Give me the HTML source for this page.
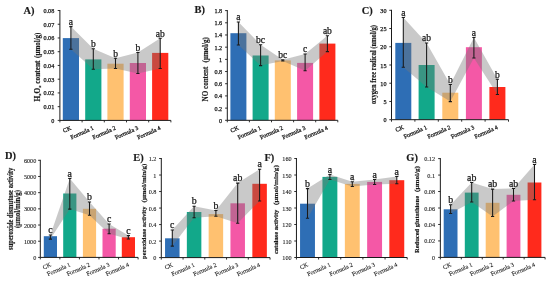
<!DOCTYPE html>
<html><head><meta charset="utf-8"><style>
html,body{margin:0;padding:0;background:#fff;width:550px;height:281px;overflow:hidden}
svg{display:block;will-change:transform}
text{font-family:"Liberation Serif",serif;fill:#1a1a1a;stroke:#1a1a1a;stroke-width:0.25px}
.yl{stroke-width:0.18px}
.lt{stroke-width:0.1px}
</style></head><body>
<svg xmlns="http://www.w3.org/2000/svg" width="550" height="281" viewBox="0 0 550 281">
<rect width="550" height="281" fill="#fff"/>
<rect x="62.8" y="38.1" width="16.2" height="82.3" fill="rgb(46,110,181)"/>
<rect x="85.2" y="59.4" width="16.2" height="61" fill="rgb(18,168,138)"/>
<rect x="107.4" y="63.7" width="16.2" height="56.7" fill="rgb(255,193,112)"/>
<rect x="129.8" y="63" width="16.2" height="57.4" fill="rgb(244,88,166)"/>
<rect x="152.1" y="52.9" width="16.2" height="67.5" fill="rgb(255,42,28)"/>
<polygon points="70.9,26.6 93.3,48.8 115.5,58.2 137.9,52.4 160.2,38.3 160.2,68.5 137.9,73.4 115.5,68.4 93.3,69.2 70.9,49.2" fill="rgb(120,120,120)" fill-opacity="0.4"/>
<path d="M70.9 26.6V49.2M69.3 26.6H72.5M69.3 49.2H72.5" stroke="#1a1a1a" stroke-width="1.05" fill="none"/>
<text x="70.9" y="24.9" font-size="9.5" text-anchor="middle">a</text>
<path d="M93.3 48.8V69.2M91.7 48.8H94.9M91.7 69.2H94.9" stroke="#1a1a1a" stroke-width="1.05" fill="none"/>
<text x="93.3" y="47.1" font-size="9.5" text-anchor="middle">b</text>
<path d="M115.5 58.2V68.4M113.9 58.2H117.1M113.9 68.4H117.1" stroke="#1a1a1a" stroke-width="1.05" fill="none"/>
<text x="115.5" y="56.5" font-size="9.5" text-anchor="middle">b</text>
<path d="M137.9 52.4V73.4M136.3 52.4H139.5M136.3 73.4H139.5" stroke="#1a1a1a" stroke-width="1.05" fill="none"/>
<text x="137.9" y="50.7" font-size="9.5" text-anchor="middle">b</text>
<path d="M160.2 38.3V68.5M158.6 38.3H161.8M158.6 68.5H161.8" stroke="#1a1a1a" stroke-width="1.05" fill="none"/>
<text x="160.2" y="36.6" font-size="9.5" text-anchor="middle">ab</text>
<path d="M59.9 10V120.4H170.9" stroke="#1a1a1a" stroke-width="1" fill="none"/>
<path d="M57.7 120.4H59.9" stroke="#1a1a1a" stroke-width="0.9"/>
<text x="54.3" y="120.4" font-size="6.2" text-anchor="end" dominant-baseline="central">0</text>
<path d="M57.7 106.66H59.9" stroke="#1a1a1a" stroke-width="0.9"/>
<text x="54.3" y="106.66" font-size="6.2" text-anchor="end" dominant-baseline="central">0.01</text>
<path d="M57.7 92.93H59.9" stroke="#1a1a1a" stroke-width="0.9"/>
<text x="54.3" y="92.93" font-size="6.2" text-anchor="end" dominant-baseline="central">0.02</text>
<path d="M57.7 79.19H59.9" stroke="#1a1a1a" stroke-width="0.9"/>
<text x="54.3" y="79.19" font-size="6.2" text-anchor="end" dominant-baseline="central">0.03</text>
<path d="M57.7 65.45H59.9" stroke="#1a1a1a" stroke-width="0.9"/>
<text x="54.3" y="65.45" font-size="6.2" text-anchor="end" dominant-baseline="central">0.04</text>
<path d="M57.7 51.71H59.9" stroke="#1a1a1a" stroke-width="0.9"/>
<text x="54.3" y="51.71" font-size="6.2" text-anchor="end" dominant-baseline="central">0.05</text>
<path d="M57.7 37.97H59.9" stroke="#1a1a1a" stroke-width="0.9"/>
<text x="54.3" y="37.97" font-size="6.2" text-anchor="end" dominant-baseline="central">0.06</text>
<path d="M57.7 24.24H59.9" stroke="#1a1a1a" stroke-width="0.9"/>
<text x="54.3" y="24.24" font-size="6.2" text-anchor="end" dominant-baseline="central">0.07</text>
<path d="M57.7 10.5H59.9" stroke="#1a1a1a" stroke-width="0.9"/>
<text x="54.3" y="10.5" font-size="6.2" text-anchor="end" dominant-baseline="central">0.08</text>
<path d="M59.9 120.4V122.4" stroke="#1a1a1a" stroke-width="0.9"/>
<path d="M82.1 120.4V122.4" stroke="#1a1a1a" stroke-width="0.9"/>
<path d="M104.3 120.4V122.4" stroke="#1a1a1a" stroke-width="0.9"/>
<path d="M126.5 120.4V122.4" stroke="#1a1a1a" stroke-width="0.9"/>
<path d="M148.7 120.4V122.4" stroke="#1a1a1a" stroke-width="0.9"/>
<path d="M170.9 120.4V122.4" stroke="#1a1a1a" stroke-width="0.9"/>
<text transform="translate(71.7 129.4) rotate(-24)" font-size="6" text-anchor="end">CK</text>
<text transform="translate(94.1 129.4) rotate(-24)" font-size="6" text-anchor="end">Formula 1</text>
<text transform="translate(116.3 129.4) rotate(-24)" font-size="6" text-anchor="end">Formula 2</text>
<text transform="translate(138.7 129.4) rotate(-24)" font-size="6" text-anchor="end">Formula 3</text>
<text transform="translate(161 129.4) rotate(-24)" font-size="6" text-anchor="end">Formula 4</text>
<text transform="translate(37.4 81) rotate(-90)" font-size="7.5" class="yl" font-weight="bold" text-anchor="middle" dominant-baseline="central" textLength="40.8" lengthAdjust="spacingAndGlyphs">H₂O₂ content</text>
<text transform="translate(37.4 45.25) rotate(-90)" font-size="7.5" class="yl" font-weight="bold" text-anchor="middle" dominant-baseline="central" textLength="25.3" lengthAdjust="spacingAndGlyphs">(μmol/g)</text>
<text transform="translate(23.5 13.8) scale(0.93 1)" font-size="11.2" class="yl" font-weight="bold">A)</text>
<rect x="230.4" y="33.2" width="16" height="87.1" fill="rgb(46,110,181)"/>
<rect x="252.6" y="55.5" width="16" height="64.8" fill="rgb(18,168,138)"/>
<rect x="274.8" y="60.4" width="16" height="59.9" fill="rgb(255,193,112)"/>
<rect x="297.1" y="62.9" width="16" height="57.4" fill="rgb(244,88,166)"/>
<rect x="319.4" y="43.6" width="16" height="76.7" fill="rgb(255,42,28)"/>
<polygon points="238.4,22 260.6,44.7 282.8,59.8 305.1,53.9 327.4,35.7 327.4,51.6 305.1,70.7 282.8,60.9 260.6,65.6 238.4,44.9" fill="rgb(120,120,120)" fill-opacity="0.4"/>
<path d="M238.4 22V44.9M236.8 22H240M236.8 44.9H240" stroke="#1a1a1a" stroke-width="1.05" fill="none"/>
<text x="238.4" y="20.3" font-size="9.5" text-anchor="middle">a</text>
<path d="M260.6 44.7V65.6M259 44.7H262.2M259 65.6H262.2" stroke="#1a1a1a" stroke-width="1.05" fill="none"/>
<text x="260.6" y="43" font-size="9.5" text-anchor="middle">bc</text>
<path d="M282.8 59.8V60.9M281.2 59.8H284.4M281.2 60.9H284.4" stroke="#1a1a1a" stroke-width="1.05" fill="none"/>
<text x="282.8" y="58.1" font-size="9.5" text-anchor="middle">bc</text>
<path d="M305.1 53.9V70.7M303.5 53.9H306.7M303.5 70.7H306.7" stroke="#1a1a1a" stroke-width="1.05" fill="none"/>
<text x="305.1" y="52.2" font-size="9.5" text-anchor="middle">c</text>
<path d="M327.4 35.7V51.6M325.8 35.7H329M325.8 51.6H329" stroke="#1a1a1a" stroke-width="1.05" fill="none"/>
<text x="327.4" y="34" font-size="9.5" text-anchor="middle">ab</text>
<path d="M227.3 10.1V120.3H337.8" stroke="#1a1a1a" stroke-width="1" fill="none"/>
<path d="M225.1 120.3H227.3" stroke="#1a1a1a" stroke-width="0.9"/>
<text x="222.2" y="120.3" font-size="6.2" text-anchor="end" dominant-baseline="central">0</text>
<path d="M225.1 108.11H227.3" stroke="#1a1a1a" stroke-width="0.9"/>
<text x="222.2" y="108.11" font-size="6.2" text-anchor="end" dominant-baseline="central">0.2</text>
<path d="M225.1 95.92H227.3" stroke="#1a1a1a" stroke-width="0.9"/>
<text x="222.2" y="95.92" font-size="6.2" text-anchor="end" dominant-baseline="central">0.4</text>
<path d="M225.1 83.73H227.3" stroke="#1a1a1a" stroke-width="0.9"/>
<text x="222.2" y="83.73" font-size="6.2" text-anchor="end" dominant-baseline="central">0.6</text>
<path d="M225.1 71.54H227.3" stroke="#1a1a1a" stroke-width="0.9"/>
<text x="222.2" y="71.54" font-size="6.2" text-anchor="end" dominant-baseline="central">0.8</text>
<path d="M225.1 59.36H227.3" stroke="#1a1a1a" stroke-width="0.9"/>
<text x="222.2" y="59.36" font-size="6.2" text-anchor="end" dominant-baseline="central">1</text>
<path d="M225.1 47.17H227.3" stroke="#1a1a1a" stroke-width="0.9"/>
<text x="222.2" y="47.17" font-size="6.2" text-anchor="end" dominant-baseline="central">1.2</text>
<path d="M225.1 34.98H227.3" stroke="#1a1a1a" stroke-width="0.9"/>
<text x="222.2" y="34.98" font-size="6.2" text-anchor="end" dominant-baseline="central">1.4</text>
<path d="M225.1 22.79H227.3" stroke="#1a1a1a" stroke-width="0.9"/>
<text x="222.2" y="22.79" font-size="6.2" text-anchor="end" dominant-baseline="central">1.6</text>
<path d="M225.1 10.6H227.3" stroke="#1a1a1a" stroke-width="0.9"/>
<text x="222.2" y="10.6" font-size="6.2" text-anchor="end" dominant-baseline="central">1.8</text>
<path d="M227.3 120.3V122.3" stroke="#1a1a1a" stroke-width="0.9"/>
<path d="M249.4 120.3V122.3" stroke="#1a1a1a" stroke-width="0.9"/>
<path d="M271.5 120.3V122.3" stroke="#1a1a1a" stroke-width="0.9"/>
<path d="M293.6 120.3V122.3" stroke="#1a1a1a" stroke-width="0.9"/>
<path d="M315.7 120.3V122.3" stroke="#1a1a1a" stroke-width="0.9"/>
<path d="M337.8 120.3V122.3" stroke="#1a1a1a" stroke-width="0.9"/>
<text transform="translate(239.2 129.3) rotate(-24)" font-size="6" text-anchor="end">CK</text>
<text transform="translate(261.4 129.3) rotate(-24)" font-size="6" text-anchor="end">Formula 1</text>
<text transform="translate(283.6 129.3) rotate(-24)" font-size="6" text-anchor="end">Formula 2</text>
<text transform="translate(305.9 129.3) rotate(-24)" font-size="6" text-anchor="end">Formula 3</text>
<text transform="translate(328.2 129.3) rotate(-24)" font-size="6" text-anchor="end">Formula 4</text>
<text transform="translate(205.9 84) rotate(-90)" font-size="7.5" class="yl" font-weight="bold" text-anchor="middle" dominant-baseline="central" textLength="34.8" lengthAdjust="spacingAndGlyphs">NO content</text>
<text transform="translate(205.9 49.85) rotate(-90)" font-size="7.5" class="yl" font-weight="bold" text-anchor="middle" dominant-baseline="central" textLength="25.1" lengthAdjust="spacingAndGlyphs">(μmol/g)</text>
<text transform="translate(194.6 13.4) scale(0.93 1)" font-size="11.2" class="yl" font-weight="bold">B)</text>
<rect x="395.3" y="42.9" width="16" height="76.8" fill="rgb(46,110,181)"/>
<rect x="418.6" y="65" width="16" height="54.7" fill="rgb(18,168,138)"/>
<rect x="442.3" y="92.7" width="16" height="27" fill="rgb(255,193,112)"/>
<rect x="465.9" y="47.2" width="16" height="72.5" fill="rgb(244,88,166)"/>
<rect x="489.4" y="87" width="16" height="32.7" fill="rgb(255,42,28)"/>
<polygon points="403.3,17.5 426.6,42.9 450.3,84.5 473.9,37.4 497.4,79.2 497.4,94.5 473.9,57.9 450.3,101.6 426.6,87 403.3,67.3" fill="rgb(120,120,120)" fill-opacity="0.4"/>
<path d="M403.3 17.5V67.3M401.7 17.5H404.9M401.7 67.3H404.9" stroke="#1a1a1a" stroke-width="1.05" fill="none"/>
<text x="403.3" y="15.8" font-size="9.5" text-anchor="middle">a</text>
<path d="M426.6 42.9V87M425 42.9H428.2M425 87H428.2" stroke="#1a1a1a" stroke-width="1.05" fill="none"/>
<text x="426.6" y="41.2" font-size="9.5" text-anchor="middle">ab</text>
<path d="M450.3 84.5V101.6M448.7 84.5H451.9M448.7 101.6H451.9" stroke="#1a1a1a" stroke-width="1.05" fill="none"/>
<text x="450.3" y="82.8" font-size="9.5" text-anchor="middle">b</text>
<path d="M473.9 37.4V57.9M472.3 37.4H475.5M472.3 57.9H475.5" stroke="#1a1a1a" stroke-width="1.05" fill="none"/>
<text x="473.9" y="35.7" font-size="9.5" text-anchor="middle">a</text>
<path d="M497.4 79.2V94.5M495.8 79.2H499M495.8 94.5H499" stroke="#1a1a1a" stroke-width="1.05" fill="none"/>
<text x="497.4" y="77.5" font-size="9.5" text-anchor="middle">b</text>
<path d="M391.5 9.8V119.7H508.5" stroke="#1a1a1a" stroke-width="1" fill="none"/>
<path d="M389.3 119.7H391.5" stroke="#1a1a1a" stroke-width="0.9"/>
<text x="386.5" y="119.7" font-size="6.2" text-anchor="end" dominant-baseline="central">0</text>
<path d="M389.3 101.47H391.5" stroke="#1a1a1a" stroke-width="0.9"/>
<text x="386.5" y="101.47" font-size="6.2" text-anchor="end" dominant-baseline="central">5</text>
<path d="M389.3 83.23H391.5" stroke="#1a1a1a" stroke-width="0.9"/>
<text x="386.5" y="83.23" font-size="6.2" text-anchor="end" dominant-baseline="central">10</text>
<path d="M389.3 65H391.5" stroke="#1a1a1a" stroke-width="0.9"/>
<text x="386.5" y="65" font-size="6.2" text-anchor="end" dominant-baseline="central">15</text>
<path d="M389.3 46.77H391.5" stroke="#1a1a1a" stroke-width="0.9"/>
<text x="386.5" y="46.77" font-size="6.2" text-anchor="end" dominant-baseline="central">20</text>
<path d="M389.3 28.53H391.5" stroke="#1a1a1a" stroke-width="0.9"/>
<text x="386.5" y="28.53" font-size="6.2" text-anchor="end" dominant-baseline="central">25</text>
<path d="M389.3 10.3H391.5" stroke="#1a1a1a" stroke-width="0.9"/>
<text x="386.5" y="10.3" font-size="6.2" text-anchor="end" dominant-baseline="central">30</text>
<path d="M391.5 119.7V121.7" stroke="#1a1a1a" stroke-width="0.9"/>
<path d="M414.9 119.7V121.7" stroke="#1a1a1a" stroke-width="0.9"/>
<path d="M438.3 119.7V121.7" stroke="#1a1a1a" stroke-width="0.9"/>
<path d="M461.7 119.7V121.7" stroke="#1a1a1a" stroke-width="0.9"/>
<path d="M485.1 119.7V121.7" stroke="#1a1a1a" stroke-width="0.9"/>
<path d="M508.5 119.7V121.7" stroke="#1a1a1a" stroke-width="0.9"/>
<text transform="translate(404.1 128.7) rotate(-24)" font-size="6" text-anchor="end">CK</text>
<text transform="translate(427.4 128.7) rotate(-24)" font-size="6" text-anchor="end">Formula 1</text>
<text transform="translate(451.1 128.7) rotate(-24)" font-size="6" text-anchor="end">Formula 2</text>
<text transform="translate(474.7 128.7) rotate(-24)" font-size="6" text-anchor="end">Formula 3</text>
<text transform="translate(498.2 128.7) rotate(-24)" font-size="6" text-anchor="end">Formula 4</text>
<text transform="translate(374.2 64.55) rotate(-90)" font-size="7.2" class="yl" font-weight="bold" text-anchor="middle" dominant-baseline="central" textLength="79.1" lengthAdjust="spacingAndGlyphs">oxygen free radical (nmol/g)</text>
<text transform="translate(361.7 14) scale(0.93 1)" font-size="11.2" class="yl" font-weight="bold">C)</text>
<rect x="43.8" y="236.2" width="13.2" height="21.2" fill="rgb(46,110,181)"/>
<rect x="63.2" y="193.5" width="13.2" height="63.9" fill="rgb(18,168,138)"/>
<rect x="82.9" y="208.8" width="13.2" height="48.6" fill="rgb(255,193,112)"/>
<rect x="102.5" y="228.7" width="13.2" height="28.7" fill="rgb(244,88,166)"/>
<rect x="121.8" y="237.2" width="13.2" height="20.2" fill="rgb(255,42,28)"/>
<polygon points="50.4,234.9 69.8,178.5 89.5,202 109.1,224 128.4,235.6 128.4,239 109.1,233.7 89.5,215.2 69.8,209.1 50.4,239.1" fill="rgb(120,120,120)" fill-opacity="0.4"/>
<path d="M50.4 234.9V239.1M48.8 234.9H52M48.8 239.1H52" stroke="#1a1a1a" stroke-width="1.05" fill="none"/>
<text x="50.4" y="233.1" font-size="9.8" text-anchor="middle">c</text>
<path d="M69.8 178.5V209.1M68.2 178.5H71.4M68.2 209.1H71.4" stroke="#1a1a1a" stroke-width="1.05" fill="none"/>
<text x="69.8" y="176.7" font-size="9.8" text-anchor="middle">a</text>
<path d="M89.5 202V215.2M87.9 202H91.1M87.9 215.2H91.1" stroke="#1a1a1a" stroke-width="1.05" fill="none"/>
<text x="89.5" y="200.2" font-size="9.8" text-anchor="middle">b</text>
<path d="M109.1 224V233.7M107.5 224H110.7M107.5 233.7H110.7" stroke="#1a1a1a" stroke-width="1.05" fill="none"/>
<text x="109.1" y="222.2" font-size="9.8" text-anchor="middle">c</text>
<path d="M128.4 235.6V239M126.8 235.6H130M126.8 239H130" stroke="#1a1a1a" stroke-width="1.05" fill="none"/>
<text x="128.4" y="233.8" font-size="9.8" text-anchor="middle">c</text>
<path d="M40.3 159.8V257.4H138.1" stroke="#1a1a1a" stroke-width="1" fill="none"/>
<path d="M38.1 257.4H40.3" stroke="#1a1a1a" stroke-width="0.9"/>
<text x="36.3" y="257.4" font-size="6.2" text-anchor="end" dominant-baseline="central" class="lt">0</text>
<path d="M38.1 241.22H40.3" stroke="#1a1a1a" stroke-width="0.9"/>
<text x="36.3" y="241.22" font-size="6.2" text-anchor="end" dominant-baseline="central" class="lt">1000</text>
<path d="M38.1 225.03H40.3" stroke="#1a1a1a" stroke-width="0.9"/>
<text x="36.3" y="225.03" font-size="6.2" text-anchor="end" dominant-baseline="central" class="lt">2000</text>
<path d="M38.1 208.85H40.3" stroke="#1a1a1a" stroke-width="0.9"/>
<text x="36.3" y="208.85" font-size="6.2" text-anchor="end" dominant-baseline="central" class="lt">3000</text>
<path d="M38.1 192.67H40.3" stroke="#1a1a1a" stroke-width="0.9"/>
<text x="36.3" y="192.67" font-size="6.2" text-anchor="end" dominant-baseline="central" class="lt">4000</text>
<path d="M38.1 176.48H40.3" stroke="#1a1a1a" stroke-width="0.9"/>
<text x="36.3" y="176.48" font-size="6.2" text-anchor="end" dominant-baseline="central" class="lt">5000</text>
<path d="M38.1 160.3H40.3" stroke="#1a1a1a" stroke-width="0.9"/>
<text x="36.3" y="160.3" font-size="6.2" text-anchor="end" dominant-baseline="central" class="lt">6000</text>
<path d="M40.3 257.4V259.4" stroke="#1a1a1a" stroke-width="0.9"/>
<path d="M59.86 257.4V259.4" stroke="#1a1a1a" stroke-width="0.9"/>
<path d="M79.42 257.4V259.4" stroke="#1a1a1a" stroke-width="0.9"/>
<path d="M98.98 257.4V259.4" stroke="#1a1a1a" stroke-width="0.9"/>
<path d="M118.54 257.4V259.4" stroke="#1a1a1a" stroke-width="0.9"/>
<path d="M138.1 257.4V259.4" stroke="#1a1a1a" stroke-width="0.9"/>
<text transform="translate(51.4 266) rotate(-24)" font-size="6" text-anchor="end" class="lt">CK</text>
<text transform="translate(70.8 266) rotate(-24)" font-size="6" text-anchor="end" class="lt">Formula 1</text>
<text transform="translate(90.5 266) rotate(-24)" font-size="6" text-anchor="end" class="lt">Formula 2</text>
<text transform="translate(110.1 266) rotate(-24)" font-size="6" text-anchor="end" class="lt">Formula 3</text>
<text transform="translate(129.4 266) rotate(-24)" font-size="6" text-anchor="end" class="lt">Formula 4</text>
<text transform="translate(10.3 208.8) rotate(-90)" font-size="7.3" class="yl" font-weight="bold" text-anchor="middle" dominant-baseline="central" textLength="82.2" lengthAdjust="spacingAndGlyphs">superoxide dismutase activity</text>
<text transform="translate(17.9 209) rotate(-90)" font-size="7.4" class="yl" font-weight="bold" text-anchor="middle" dominant-baseline="central" textLength="37.8" lengthAdjust="spacingAndGlyphs">(μmol/min/g)</text>
<text transform="translate(5 159.2) scale(0.93 1)" font-size="11.2" class="yl" font-weight="bold">D)</text>
<rect x="165.05" y="238.3" width="14.5" height="19.3" fill="rgb(46,110,181)"/>
<rect x="186.85" y="212" width="14.5" height="45.6" fill="rgb(18,168,138)"/>
<rect x="208.65" y="214.1" width="14.5" height="43.5" fill="rgb(255,193,112)"/>
<rect x="230.45" y="203.3" width="14.5" height="54.3" fill="rgb(244,88,166)"/>
<rect x="252.35" y="183.8" width="14.5" height="73.8" fill="rgb(255,42,28)"/>
<polygon points="172.3,229.9 194.1,206.2 215.9,210.5 237.7,183.1 259.6,169.2 259.6,200.9 237.7,223.3 215.9,216.2 194.1,217.8 172.3,246.1" fill="rgb(120,120,120)" fill-opacity="0.4"/>
<path d="M172.3 229.9V246.1M170.7 229.9H173.9M170.7 246.1H173.9" stroke="#1a1a1a" stroke-width="1.05" fill="none"/>
<text x="172.3" y="228.1" font-size="9.8" text-anchor="middle">c</text>
<path d="M194.1 206.2V217.8M192.5 206.2H195.7M192.5 217.8H195.7" stroke="#1a1a1a" stroke-width="1.05" fill="none"/>
<text x="194.1" y="204.4" font-size="9.8" text-anchor="middle">b</text>
<path d="M215.9 210.5V216.2M214.3 210.5H217.5M214.3 216.2H217.5" stroke="#1a1a1a" stroke-width="1.05" fill="none"/>
<text x="215.9" y="208.7" font-size="9.8" text-anchor="middle">b</text>
<path d="M237.7 183.1V223.3M236.1 183.1H239.3M236.1 223.3H239.3" stroke="#1a1a1a" stroke-width="1.05" fill="none"/>
<text x="237.7" y="181.3" font-size="9.8" text-anchor="middle">ab</text>
<path d="M259.6 169.2V200.9M258 169.2H261.2M258 200.9H261.2" stroke="#1a1a1a" stroke-width="1.05" fill="none"/>
<text x="259.6" y="167.4" font-size="9.8" text-anchor="middle">a</text>
<path d="M161.3 158V257.6H270.05" stroke="#1a1a1a" stroke-width="1" fill="none"/>
<path d="M159.1 257.6H161.3" stroke="#1a1a1a" stroke-width="0.9"/>
<text x="156.4" y="257.6" font-size="6.2" text-anchor="end" dominant-baseline="central" class="lt">0</text>
<path d="M159.1 241.08H161.3" stroke="#1a1a1a" stroke-width="0.9"/>
<text x="156.4" y="241.08" font-size="6.2" text-anchor="end" dominant-baseline="central" class="lt">0.2</text>
<path d="M159.1 224.57H161.3" stroke="#1a1a1a" stroke-width="0.9"/>
<text x="156.4" y="224.57" font-size="6.2" text-anchor="end" dominant-baseline="central" class="lt">0.4</text>
<path d="M159.1 208.05H161.3" stroke="#1a1a1a" stroke-width="0.9"/>
<text x="156.4" y="208.05" font-size="6.2" text-anchor="end" dominant-baseline="central" class="lt">0.6</text>
<path d="M159.1 191.53H161.3" stroke="#1a1a1a" stroke-width="0.9"/>
<text x="156.4" y="191.53" font-size="6.2" text-anchor="end" dominant-baseline="central" class="lt">0.8</text>
<path d="M159.1 175.02H161.3" stroke="#1a1a1a" stroke-width="0.9"/>
<text x="156.4" y="175.02" font-size="6.2" text-anchor="end" dominant-baseline="central" class="lt">1</text>
<path d="M159.1 158.5H161.3" stroke="#1a1a1a" stroke-width="0.9"/>
<text x="156.4" y="158.5" font-size="6.2" text-anchor="end" dominant-baseline="central" class="lt">1.2</text>
<path d="M161.3 257.6V259.6" stroke="#1a1a1a" stroke-width="0.9"/>
<path d="M183.05 257.6V259.6" stroke="#1a1a1a" stroke-width="0.9"/>
<path d="M204.8 257.6V259.6" stroke="#1a1a1a" stroke-width="0.9"/>
<path d="M226.55 257.6V259.6" stroke="#1a1a1a" stroke-width="0.9"/>
<path d="M248.3 257.6V259.6" stroke="#1a1a1a" stroke-width="0.9"/>
<path d="M270.05 257.6V259.6" stroke="#1a1a1a" stroke-width="0.9"/>
<text transform="translate(173.3 266.2) rotate(-24)" font-size="6" text-anchor="end" class="lt">CK</text>
<text transform="translate(195.1 266.2) rotate(-24)" font-size="6" text-anchor="end" class="lt">Formula 1</text>
<text transform="translate(216.9 266.2) rotate(-24)" font-size="6" text-anchor="end" class="lt">Formula 2</text>
<text transform="translate(238.7 266.2) rotate(-24)" font-size="6" text-anchor="end" class="lt">Formula 3</text>
<text transform="translate(260.6 266.2) rotate(-24)" font-size="6" text-anchor="end" class="lt">Formula 4</text>
<text transform="translate(143.2 232.75) rotate(-90)" font-size="6.9" class="yl" font-weight="bold" text-anchor="middle" dominant-baseline="central" textLength="52.3" lengthAdjust="spacingAndGlyphs">peroxidase activity</text>
<text transform="translate(143.2 183.1) rotate(-90)" font-size="6.9" class="yl" font-weight="bold" text-anchor="middle" dominant-baseline="central" textLength="38.6" lengthAdjust="spacingAndGlyphs">(μmol/min/g)</text>
<text transform="translate(133.3 161) scale(0.93 1)" font-size="11.2" class="yl" font-weight="bold">E)</text>
<rect x="300.05" y="203.7" width="14.9" height="53.8" fill="rgb(46,110,181)"/>
<rect x="322.45" y="176.9" width="14.9" height="80.6" fill="rgb(18,168,138)"/>
<rect x="344.85" y="183.9" width="14.9" height="73.6" fill="rgb(255,193,112)"/>
<rect x="367.15" y="181.9" width="14.9" height="75.6" fill="rgb(244,88,166)"/>
<rect x="389.35" y="180.2" width="14.9" height="77.3" fill="rgb(255,42,28)"/>
<polygon points="307.5,188.6 329.9,174.4 352.3,181.7 374.6,179.4 396.8,176.4 396.8,183.7 374.6,184.4 352.3,186.4 329.9,179.4 307.5,218.2" fill="rgb(120,120,120)" fill-opacity="0.4"/>
<path d="M307.5 188.6V218.2M305.9 188.6H309.1M305.9 218.2H309.1" stroke="#1a1a1a" stroke-width="1.05" fill="none"/>
<text x="307.5" y="186.8" font-size="9.8" text-anchor="middle">b</text>
<path d="M329.9 174.4V179.4M328.3 174.4H331.5M328.3 179.4H331.5" stroke="#1a1a1a" stroke-width="1.05" fill="none"/>
<text x="329.9" y="172.6" font-size="9.8" text-anchor="middle">a</text>
<path d="M352.3 181.7V186.4M350.7 181.7H353.9M350.7 186.4H353.9" stroke="#1a1a1a" stroke-width="1.05" fill="none"/>
<text x="352.3" y="179.9" font-size="9.8" text-anchor="middle">a</text>
<path d="M374.6 179.4V184.4M373 179.4H376.2M373 184.4H376.2" stroke="#1a1a1a" stroke-width="1.05" fill="none"/>
<text x="374.6" y="177.6" font-size="9.8" text-anchor="middle">a</text>
<path d="M396.8 176.4V183.7M395.2 176.4H398.4M395.2 183.7H398.4" stroke="#1a1a1a" stroke-width="1.05" fill="none"/>
<text x="396.8" y="174.6" font-size="9.8" text-anchor="middle">a</text>
<path d="M296.45 158V257.5H407.2" stroke="#1a1a1a" stroke-width="1" fill="none"/>
<path d="M294.25 257.5H296.45" stroke="#1a1a1a" stroke-width="0.9"/>
<text x="291.6" y="257.5" font-size="6.2" text-anchor="end" dominant-baseline="central" class="lt">100</text>
<path d="M294.25 241H296.45" stroke="#1a1a1a" stroke-width="0.9"/>
<text x="291.6" y="241" font-size="6.2" text-anchor="end" dominant-baseline="central" class="lt">110</text>
<path d="M294.25 224.5H296.45" stroke="#1a1a1a" stroke-width="0.9"/>
<text x="291.6" y="224.5" font-size="6.2" text-anchor="end" dominant-baseline="central" class="lt">120</text>
<path d="M294.25 208H296.45" stroke="#1a1a1a" stroke-width="0.9"/>
<text x="291.6" y="208" font-size="6.2" text-anchor="end" dominant-baseline="central" class="lt">130</text>
<path d="M294.25 191.5H296.45" stroke="#1a1a1a" stroke-width="0.9"/>
<text x="291.6" y="191.5" font-size="6.2" text-anchor="end" dominant-baseline="central" class="lt">140</text>
<path d="M294.25 175H296.45" stroke="#1a1a1a" stroke-width="0.9"/>
<text x="291.6" y="175" font-size="6.2" text-anchor="end" dominant-baseline="central" class="lt">150</text>
<path d="M294.25 158.5H296.45" stroke="#1a1a1a" stroke-width="0.9"/>
<text x="291.6" y="158.5" font-size="6.2" text-anchor="end" dominant-baseline="central" class="lt">160</text>
<path d="M296.45 257.5V259.5" stroke="#1a1a1a" stroke-width="0.9"/>
<path d="M318.6 257.5V259.5" stroke="#1a1a1a" stroke-width="0.9"/>
<path d="M340.75 257.5V259.5" stroke="#1a1a1a" stroke-width="0.9"/>
<path d="M362.9 257.5V259.5" stroke="#1a1a1a" stroke-width="0.9"/>
<path d="M385.05 257.5V259.5" stroke="#1a1a1a" stroke-width="0.9"/>
<path d="M407.2 257.5V259.5" stroke="#1a1a1a" stroke-width="0.9"/>
<text transform="translate(308.5 266.1) rotate(-24)" font-size="6" text-anchor="end" class="lt">CK</text>
<text transform="translate(330.9 266.1) rotate(-24)" font-size="6" text-anchor="end" class="lt">Formula 1</text>
<text transform="translate(353.3 266.1) rotate(-24)" font-size="6" text-anchor="end" class="lt">Formula 2</text>
<text transform="translate(375.6 266.1) rotate(-24)" font-size="6" text-anchor="end" class="lt">Formula 3</text>
<text transform="translate(397.8 266.1) rotate(-24)" font-size="6" text-anchor="end" class="lt">Formula 4</text>
<text transform="translate(275.8 231.85) rotate(-90)" font-size="6.9" class="yl" font-weight="bold" text-anchor="middle" dominant-baseline="central" textLength="44.5" lengthAdjust="spacingAndGlyphs">catalase activity</text>
<text transform="translate(275.8 185.1) rotate(-90)" font-size="6.9" class="yl" font-weight="bold" text-anchor="middle" dominant-baseline="central" textLength="39.8" lengthAdjust="spacingAndGlyphs">(μmol/min/g)</text>
<text transform="translate(264.5 160.7) scale(0.93 1)" font-size="11.2" class="yl" font-weight="bold">F)</text>
<rect x="443.7" y="209.3" width="13.8" height="48.1" fill="rgb(46,110,181)"/>
<rect x="464.8" y="192.6" width="13.8" height="64.8" fill="rgb(18,168,138)"/>
<rect x="485.7" y="202.8" width="13.8" height="54.6" fill="rgb(255,193,112)"/>
<rect x="506.6" y="194.8" width="13.8" height="62.6" fill="rgb(244,88,166)"/>
<rect x="527.6" y="182.5" width="13.8" height="74.9" fill="rgb(255,42,28)"/>
<polygon points="450.6,204.8 471.7,182.5 492.6,189.1 513.5,188.4 534.5,164.5 534.5,199.7 513.5,200.9 492.6,216.4 471.7,202 450.6,213.4" fill="rgb(120,120,120)" fill-opacity="0.4"/>
<path d="M450.6 204.8V213.4M449 204.8H452.2M449 213.4H452.2" stroke="#1a1a1a" stroke-width="1.05" fill="none"/>
<text x="450.6" y="203" font-size="9.8" text-anchor="middle">b</text>
<path d="M471.7 182.5V202M470.1 182.5H473.3M470.1 202H473.3" stroke="#1a1a1a" stroke-width="1.05" fill="none"/>
<text x="471.7" y="180.7" font-size="9.8" text-anchor="middle">ab</text>
<path d="M492.6 189.1V216.4M491 189.1H494.2M491 216.4H494.2" stroke="#1a1a1a" stroke-width="1.05" fill="none"/>
<text x="492.6" y="187.3" font-size="9.8" text-anchor="middle">ab</text>
<path d="M513.5 188.4V200.9M511.9 188.4H515.1M511.9 200.9H515.1" stroke="#1a1a1a" stroke-width="1.05" fill="none"/>
<text x="513.5" y="186.6" font-size="9.8" text-anchor="middle">ab</text>
<path d="M534.5 164.5V199.7M532.9 164.5H536.1M532.9 199.7H536.1" stroke="#1a1a1a" stroke-width="1.05" fill="none"/>
<text x="534.5" y="162.7" font-size="9.8" text-anchor="middle">a</text>
<path d="M440.35 158.1V257.4H545.1" stroke="#1a1a1a" stroke-width="1" fill="none"/>
<path d="M438.15 257.4H440.35" stroke="#1a1a1a" stroke-width="0.9"/>
<text x="435" y="257.4" font-size="6.2" text-anchor="end" dominant-baseline="central" class="lt">0</text>
<path d="M438.15 240.93H440.35" stroke="#1a1a1a" stroke-width="0.9"/>
<text x="435" y="240.93" font-size="6.2" text-anchor="end" dominant-baseline="central" class="lt">0.02</text>
<path d="M438.15 224.47H440.35" stroke="#1a1a1a" stroke-width="0.9"/>
<text x="435" y="224.47" font-size="6.2" text-anchor="end" dominant-baseline="central" class="lt">0.04</text>
<path d="M438.15 208H440.35" stroke="#1a1a1a" stroke-width="0.9"/>
<text x="435" y="208" font-size="6.2" text-anchor="end" dominant-baseline="central" class="lt">0.06</text>
<path d="M438.15 191.53H440.35" stroke="#1a1a1a" stroke-width="0.9"/>
<text x="435" y="191.53" font-size="6.2" text-anchor="end" dominant-baseline="central" class="lt">0.08</text>
<path d="M438.15 175.07H440.35" stroke="#1a1a1a" stroke-width="0.9"/>
<text x="435" y="175.07" font-size="6.2" text-anchor="end" dominant-baseline="central" class="lt">0.1</text>
<path d="M438.15 158.6H440.35" stroke="#1a1a1a" stroke-width="0.9"/>
<text x="435" y="158.6" font-size="6.2" text-anchor="end" dominant-baseline="central" class="lt">0.12</text>
<path d="M440.35 257.4V259.4" stroke="#1a1a1a" stroke-width="0.9"/>
<path d="M461.3 257.4V259.4" stroke="#1a1a1a" stroke-width="0.9"/>
<path d="M482.25 257.4V259.4" stroke="#1a1a1a" stroke-width="0.9"/>
<path d="M503.2 257.4V259.4" stroke="#1a1a1a" stroke-width="0.9"/>
<path d="M524.15 257.4V259.4" stroke="#1a1a1a" stroke-width="0.9"/>
<path d="M545.1 257.4V259.4" stroke="#1a1a1a" stroke-width="0.9"/>
<text transform="translate(451.6 266) rotate(-24)" font-size="6" text-anchor="end" class="lt">CK</text>
<text transform="translate(472.7 266) rotate(-24)" font-size="6" text-anchor="end" class="lt">Formula 1</text>
<text transform="translate(493.6 266) rotate(-24)" font-size="6" text-anchor="end" class="lt">Formula 2</text>
<text transform="translate(514.5 266) rotate(-24)" font-size="6" text-anchor="end" class="lt">Formula 3</text>
<text transform="translate(535.5 266) rotate(-24)" font-size="6" text-anchor="end" class="lt">Formula 4</text>
<text transform="translate(416.7 224.45) rotate(-90)" font-size="6.9" class="yl" font-weight="bold" text-anchor="middle" dominant-baseline="central" textLength="57.1" lengthAdjust="spacingAndGlyphs">Reduced glutathione</text>
<text transform="translate(416.7 179) rotate(-90)" font-size="6.9" class="yl" font-weight="bold" text-anchor="middle" dominant-baseline="central" textLength="26" lengthAdjust="spacingAndGlyphs">(μmol/g)</text>
<text transform="translate(406.3 160.7) scale(0.93 1)" font-size="11.2" class="yl" font-weight="bold">G)</text>
</svg>
</body></html>
